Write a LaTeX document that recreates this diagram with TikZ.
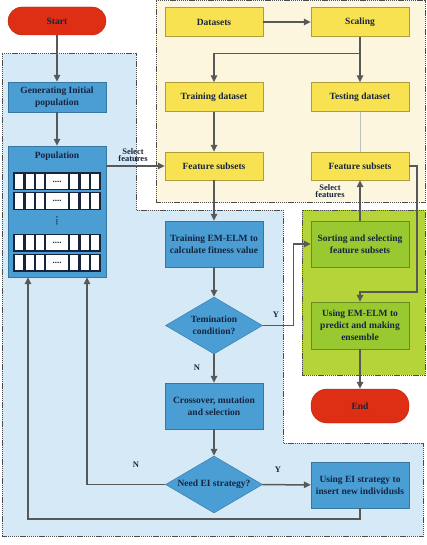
\documentclass[tikz,border=0pt]{standalone}
\usepackage{fontspec}
\setmainfont{Liberation Serif}
\usetikzlibrary{arrows.meta, positioning, shapes.geometric, calc}
\usepackage{xcolor}
\definecolor{boxblue}{RGB}{74,158,212}
\definecolor{areablue}{RGB}{214,233,247}
\definecolor{boxyellow}{RGB}{248,226,82}
\definecolor{areayellow}{RGB}{253,246,222}
\definecolor{boxgreen}{RGB}{152,201,48}
\definecolor{areagreen}{RGB}{180,212,58}
\definecolor{startred}{RGB}{222,46,20}
\definecolor{textnavy}{RGB}{22,36,62}
\definecolor{linegray}{RGB}{88,88,88}

\tikzset{
  area/.style={draw=linegray!85!black, line width=1pt, dash pattern=on 1.2pt off 0.7pt},
  arrow/.style={draw=linegray, line width=1.5pt, -{Triangle[length=7pt, width=6.5pt]}},
  bluebox/.style={draw=boxblue!75!black, fill=boxblue, minimum width=98pt, inner sep=1pt},
  yellowbox/.style={draw=boxyellow!70!black, fill=boxyellow, minimum width=98pt, minimum height=29pt, inner sep=1pt},
  greenbox/.style={draw=boxgreen!70!black, fill=boxgreen, minimum width=98pt, minimum height=46pt, inner sep=1pt},
  decision/.style={diamond, draw=boxblue!75!black, fill=boxblue, minimum width=97pt, minimum height=57pt, aspect=1.7, inner sep=0pt},
  pill/.style={draw=startred!80!black, fill=startred, rounded corners=14pt, minimum width=98pt},
  tag/.style={font=\fontsize{8.5}{7.5}\selectfont\bfseries}
}

\begin{document}
\begin{tikzpicture}[x=1pt, y=-1pt, every node/.style={font=\fontsize{9.5}{12}\selectfont\bfseries, text=textnavy, align=center}]
\useasboundingbox (0,0) rectangle (427,545);

% regions
\filldraw[area, fill=areayellow] (156,1) rectangle (425,202);
\filldraw[area, fill=areablue] (2,54) -- (136,54) -- (136,210) -- (283,210) -- (283,443) -- (423,443) -- (423,536) -- (2,536) -- cycle;
\filldraw[area, fill=areagreen] (302,210) rectangle (425,375);

% left column
\node[pill, minimum height=28pt] (start) at (57,21) {Start};
\node[bluebox, minimum height=30pt] (geninit) at (57,97) {Generating Initial\\population};
\node[bluebox, minimum height=131pt] (popul) at (57,211.5) {};
\node (poptitle) at (57,156) {Population};

% individuals
\foreach \ry in {181.5,201,242.5,262.5} {
  \fill[textnavy] (13,\ry-9) rectangle (101,\ry+9);
  \foreach \cx/\cw in {15/8,25.5/8,36/8,46/22,70/8,80.5/8,91/8}
    \fill[white] (\cx,\ry-7.5) rectangle (\cx+\cw,\ry+7.5);
  \node[font=\bfseries\small, inner sep=0pt] at (57,\ry) {....};
}
\node[rotate=90, inner sep=0pt, font=\bfseries\small] (popdots) at (57,221) {....};

% data column
\node[yellowbox] (datasets) at (214,22) {Datasets};
\node[yellowbox] (scaling) at (360,22) {Scaling};
\node[yellowbox] (trainset) at (214,97) {Training dataset};
\node[yellowbox] (testset) at (360,97) {Testing dataset};
\node[yellowbox, minimum height=28pt] (featl) at (214,166) {Feature subsets};
\node[yellowbox, minimum height=28pt] (featr) at (360,166) {Feature subsets};

% evolution column
\node[bluebox, minimum height=46pt] (trainelm) at (214,244) {Training EM-ELM to\\calculate fitness value};
\node[decision] (termin) at (214,325.5) {Temination\\condition?};
\node[bluebox, minimum height=46pt] (crossover) at (214,406) {Crossover, mutation\\and selection};
\node[decision] (needei) at (214,484.5) {Need EI strategy?};
\node[bluebox, minimum height=46pt] (usingei) at (360,485) {Using EI strategy to\\insert new individusls};

% ensemble column
\node[greenbox] (sorting) at (360,244) {Sorting and selecting\\feature subsets};
\node[greenbox, minimum height=47pt] (predict) at (360,325.5) {Using EM-ELM to\\predict and making\\ensemble};
\node[pill, minimum height=34pt, rounded corners=16pt] (endnode) at (360,406) {End};

% connectors
\draw[arrow] (start) -- (geninit);
\draw[arrow] (geninit) -- (popul);
\draw[arrow] (popul.east |- featl.west) -- (featl.west);
\node[tag] (selectl) at (133,155) {Select\\features};
\draw[arrow] (datasets) -- (scaling);
\draw[arrow] (scaling) -- (testset);
\coordinate (split) at ($(scaling.south)+(0,17)$);
\draw[arrow] (split) -| (trainset);
\draw[gray!50, line width=0.4pt] (testset) -- (featr);
\draw[arrow] (trainset) -- (featl);
\draw[arrow] (featl) -- (trainelm);
\draw[arrow] (trainelm) -- (termin);
\draw[arrow] (termin) -- (crossover);
\node[tag] (nterm) at (197,368) {N};
\draw[arrow] (crossover) -- (needei);
\draw[arrow] (needei) -- (usingei);
\node[tag] (yneed) at (278,470) {Y};
\draw[arrow] (termin.east) -- ++(31,0) |- (sorting.west);
\node[tag] (yterm) at (276,315) {Y};
\draw[arrow] (needei.west) -| ($(popul.south)+(30,0)$);
\node[tag] (nneed) at (136,465) {N};
\draw[arrow] (usingei.south) -- ++(0,11) -| ($(popul.south)+(-29,0)$);
\draw[arrow] (sorting) -- (featr);
\node[tag] (selectr) at (330,191) {Select\\features};
\draw[arrow] (featr.east) -- ++(8,0) -- ++(0,126) -| (predict.north);
\draw[arrow] (predict) -- (endnode);
\end{tikzpicture}
\end{document}
